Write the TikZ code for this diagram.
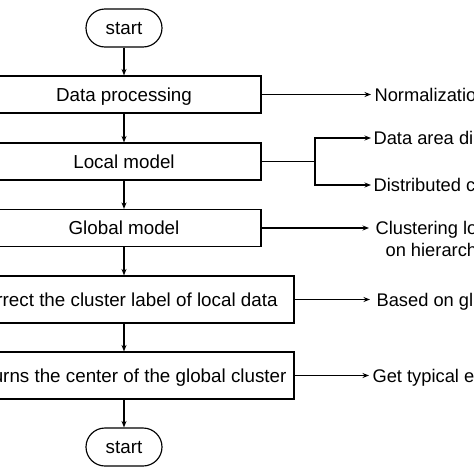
\documentclass[tikz,border=0pt]{standalone}
\usepackage{fontspec}
\setmainfont{Liberation Sans}
\usetikzlibrary{arrows.meta}
\begin{document}
\begin{tikzpicture}[x=1pt,y=-1pt,line width=1.15pt,
  every node/.style={font=\fontsize{18.8}{22.5}\selectfont},
  box/.style={draw,rectangle,inner sep=0pt,text height=13.5pt,text depth=0pt,minimum height=37pt},
  wbox/.style={box,minimum width=338pt,minimum height=47pt},
  nbox/.style={box,minimum width=274pt},
  term/.style={draw,rounded corners=19pt,inner sep=0pt,text height=13.5pt,text depth=0pt,minimum width=76pt,minimum height=38pt},
  side/.style={anchor=west,inner sep=0pt,text height=13.2pt,text depth=0pt,font=\fontsize{18.3}{22}\selectfont},
  arr/.style={-{Stealth[length=6.5pt,width=5pt]}}]
\useasboundingbox (0,0) rectangle (474,474);
\clip (0,0) rectangle (474,474);
% main column
\node[term] (s) at (124,28) {start};
\node[nbox] (dp) at (124,94.5) {Data processing};
\node[nbox] (lm) at (124,161.5) {Local model};
\node[nbox] (gm) at (124,228) {Global model};
\node[wbox] (cc) at (125,299.5) {Correct the cluster label of local data};
\node[wbox] (rc) at (125,375.5) {Returns the center of the global cluster};
\node[term] (e) at (124,447) {start};
\draw[arr] (s) -- (dp);
\draw[arr] (dp) -- (lm);
\draw[arr] (lm) -- (gm);
\draw[arr] (gm.south) -- (gm.south |- cc.north);
\draw[arr] (cc.south -| gm.south) -- (rc.north -| gm.south);
\draw[arr] (rc.south -| gm.south) -- (e);
% side texts
\node[side] (t1) at (374,94.5) {Normalizatio};
\node[side] (t2) at (373,138) {Data area di};
\node[side] (t3) at (373,185) {Distributed c};
\node[side] (t4) at (375,228) {Clustering lo};
\node[side] (t4b) at (385,250) {on hierarch};
\node[side] (t5) at (376,299.5) {Based on gl};
\node[side] (t6) at (372,375.5) {Get typical e};
\coordinate (j) at (315,161.5);
\draw[arr,shorten >=3pt] (dp.east) -- (t1.west);
\draw (lm.east) -- (j);
\draw[arr,shorten >=2pt] (j) |- (t2.west);
\draw[arr,shorten >=2pt] (j) |- (t3.west);
\draw[arr,shorten >=6pt] (gm.east) -- (t4.west);
\draw[arr,shorten >=6pt] (cc.east) -- (t5.west);
\draw[arr,shorten >=3pt] (rc.east) -- (t6.west);
\end{tikzpicture}
\end{document}
